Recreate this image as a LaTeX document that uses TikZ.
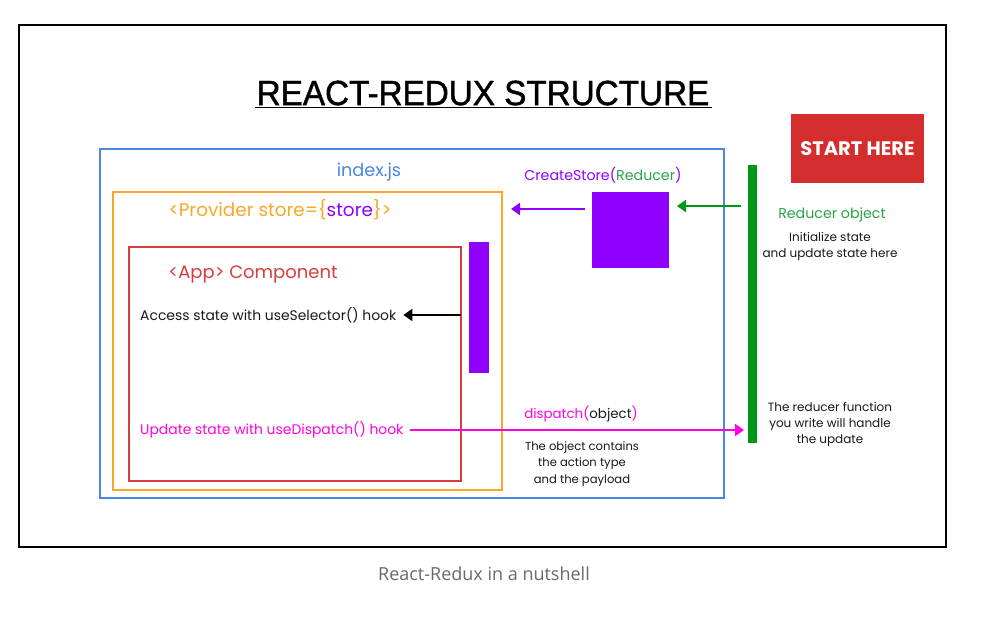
\documentclass[tikz,border=0pt]{standalone}
\usepackage{fontspec}
\setmainfont{Poppins}
\newfontfamily\titlefont[FakeStretch=0.95,FakeBold=1.2]{Liberation Sans}
\newfontfamily\capfont{Open Sans}
\usetikzlibrary{arrows.meta,calc}
\definecolor{cblue}{RGB}{74,134,226}
\definecolor{corange}{RGB}{247,168,40}
\definecolor{cred}{RGB}{214,62,62}
\definecolor{cpurple}{RGB}{143,0,255}
\definecolor{cgreen}{RGB}{0,150,25}
\definecolor{cgreentxt}{RGB}{40,165,70}
\definecolor{cmag}{RGB}{255,0,225}
\definecolor{cstart}{RGB}{212,45,45}
\definecolor{ccap}{RGB}{105,105,105}
\definecolor{ctext}{RGB}{25,25,25}
\tikzset{
  frame/.style={draw, line width=1.8pt, inner sep=0pt, outer sep=0pt},
  solid box/.style={inner sep=0pt, outer sep=0pt, draw=none},
  lbl/.style={inner sep=0pt, font=\fontsize{12}{16}\selectfont, text=ctext, align=center},
  side/.style={inner sep=0pt, font=\fontsize{13.9}{16}\selectfont, text=ctext},
  head/.style={inner sep=0pt},
  arr/.style={line width=2.6pt, -{Triangle[length=9pt,width=12pt]}},
}
\begin{document}
\begin{tikzpicture}[x=1pt,y=-1pt]
\useasboundingbox[fill=white] (0,0) rectangle (988,633);
% outer frame
\node[frame, draw=black, line width=1.6pt, minimum width=927pt, minimum height=522pt] (outer) at (482.5,286) {};
% title
\node[inner sep=0pt, font=\titlefont\fontsize{35}{38}\selectfont] (title) at (483,93) {REACT-REDUX STRUCTURE};
\draw[line width=1.4pt] ($(title.south west)+(-2,2)$) -- ($(title.south east)+(2,2)$);
% start here
\node[solid box, fill=cstart, minimum width=133pt, minimum height=69pt, text=white, font=\bfseries\fontsize{19.5}{22}\selectfont] (start) at (857.5,148.5) {START HERE};
% boxes
\node[frame, draw=cblue, minimum width=624pt, minimum height=349pt] (index) at (412,323.5) {};
\node[frame, draw=corange, minimum width=389pt, minimum height=298pt] (prov) at (307.5,341) {};
\node[frame, draw=cred, minimum width=332pt, minimum height=234pt] (app) at (295,364) {};
\node[solid box, fill=cpurple, minimum width=20pt, minimum height=131pt] (pbar) at (479,307.5) {};
\node[solid box, fill=cpurple, minimum width=77pt, minimum height=76pt] (store) at (630.5,230) {};
\node[solid box, fill=cgreen, minimum width=9pt, minimum height=278pt] (gbar) at (752.5,304) {};
% headings
\node[head, text=cblue, font=\fontsize{17.7}{20}\selectfont] (indexlbl) at (369,172) {index.js};
\node[head, text=corange, font=\fontsize{18.4}{20}\selectfont] (provlbl) at (280,210) {<Provider store=\{\textcolor{cpurple}{store}\}>};
\node[head, text=cred, font=\fontsize{18}{20}\selectfont] (applbl) at (253,274) {<App> Component};
\node[lbl, text=cpurple, font=\fontsize{14.2}{16}\selectfont] (cslbl) at (603,175) {CreateStore(\textcolor{cgreentxt}{Reducer})};
\node[lbl, text=cgreentxt, font=\fontsize{14.2}{16}\selectfont] (redobj) at (832,215) {Reducer object};
\node[lbl] (init) at (830,246) {Initialize state\\and update state here};
\node[side, anchor=west] (access) at (140,315) {Access state with useSelector() hook};
\node[side, anchor=west, text=cmag] (update) at (140,430) {Update state with useDispatch() hook};
\node[lbl, text=cmag, font=\fontsize{13.4}{16}\selectfont] (disp) at (581,414) {dispatch(\textcolor{ctext}{object})};
\node[lbl, font=\fontsize{11.6}{16.5}\selectfont] (objtxt) at (582,464) {The object contains\\the action type\\and the payload};
\node[lbl] (redfn) at (830,424) {The reducer function\\you write will handle\\the update};
% caption
\node[inner sep=0pt, text=ccap, font=\capfont\fontsize{18}{20}\selectfont] (cap) at (484,574) {React-Redux in a nutshell};
% arrows
\coordinate (pa) at ($(store.west)+(-7,-21)$);
\coordinate (pe) at ($(prov.east)+(9,0)$);
\draw[arr, cpurple] (pa) -- (pe |- pa);
\coordinate (ga) at ($(gbar.west)+(-7,-98)$);
\coordinate (ge) at ($(store.east)+(8,0)$);
\draw[arr, cgreen] (ga) -- (ge |- ga);
\coordinate (ba) at (app.east |- access.east);
\draw[arr, black, line width=2.2pt] (ba) -- ($(access.east)+(7,0)$);
\coordinate (ma) at ($(update.east)+(6,0)$);
\coordinate (me) at ($(gbar.west)+(-4,0)$);
\draw[arr, cmag, line width=2.2pt] (ma) -- (me |- ma);
\end{tikzpicture}
\end{document}
